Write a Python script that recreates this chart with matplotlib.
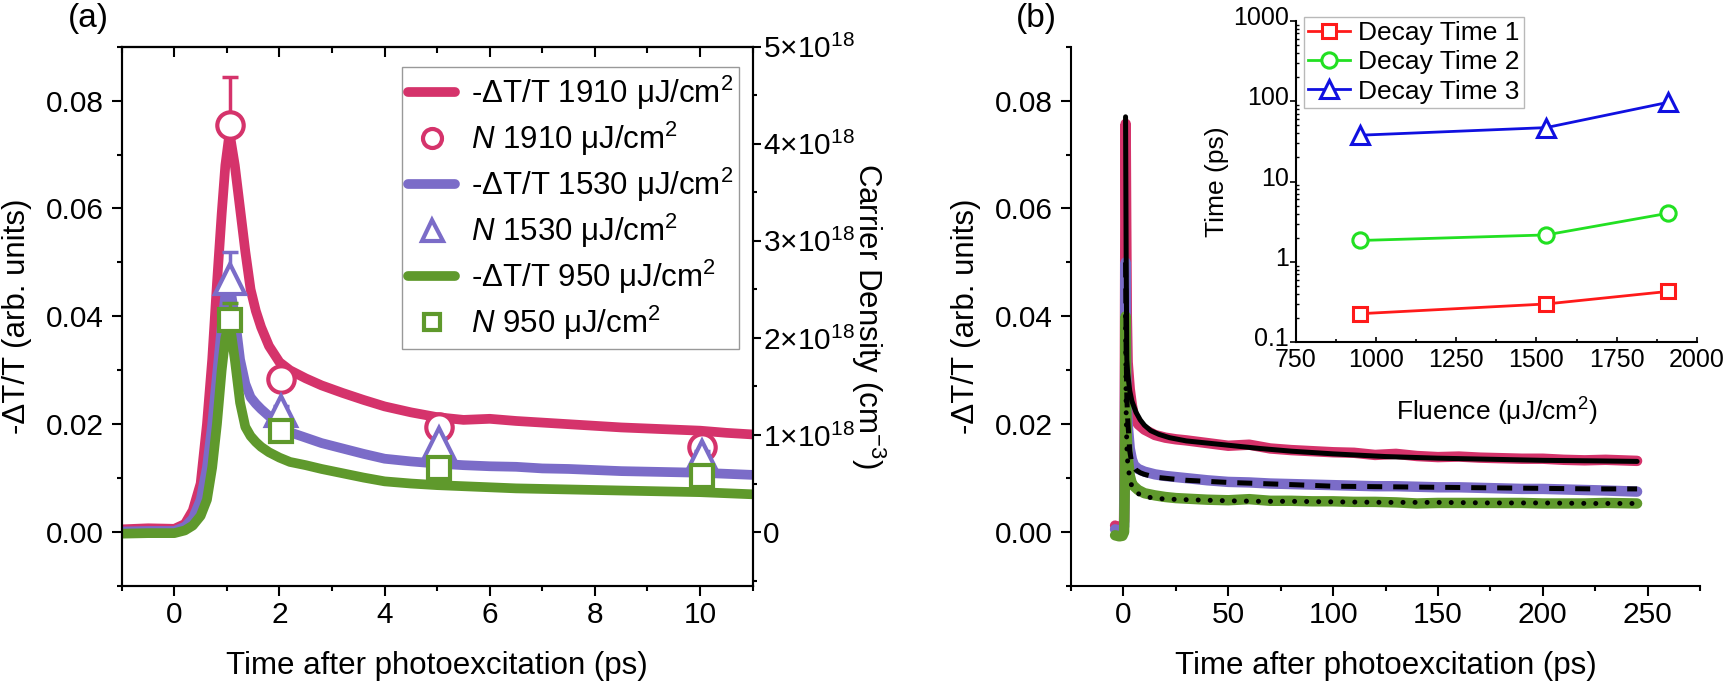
import matplotlib
matplotlib.use("Agg")
import matplotlib.pyplot as plt
import matplotlib.transforms as mtransforms
from matplotlib.ticker import MultipleLocator, FuncFormatter, LogLocator, NullFormatter
import numpy as np

plt.rcParams['font.family'] = ['Liberation Sans', 'DejaVu Sans']
plt.rcParams['mathtext.fontset'] = 'custom'
plt.rcParams['mathtext.rm'] = 'Liberation Sans'
plt.rcParams['mathtext.it'] = 'Liberation Sans:italic'
plt.rcParams['mathtext.bf'] = 'Liberation Sans:bold'
plt.rcParams['axes.linewidth'] = 1.5

PINK = '#d5336b'
PURPLE = '#7b6cc8'
GREEN = '#5f992c'

# ---- panel (a): early-time traces ----
ta = [-1.0, -0.5, 0.0, 0.2, 0.35, 0.5, 0.62, 0.72, 0.81, 0.9, 0.97, 1.05, 1.15, 1.25,
      1.35, 1.45, 1.55, 1.65, 1.8, 2.0, 2.2, 2.5, 2.8, 3.2, 3.6, 4.0, 4.5, 5.0, 5.5,
      6.0, 6.5, 7.0, 7.5, 8.0, 8.5, 9.0, 9.5, 10.0, 10.5, 11.0]
dT_1910 = [0.0005, 0.0007, 0.0006, 0.0015, 0.004, 0.009, 0.020, 0.032, 0.046, 0.059, 0.068,
           0.074, 0.068, 0.060, 0.052, 0.045, 0.041, 0.038, 0.0345, 0.0315, 0.0300, 0.0285,
           0.0272, 0.0258, 0.0245, 0.0233, 0.0222, 0.0213, 0.0208, 0.0210, 0.0206, 0.0203,
           0.0200, 0.0197, 0.0194, 0.0192, 0.0190, 0.0188, 0.0184, 0.0181]
dT_1530 = [0.0001, 0.0002, 0.0002, 0.0010, 0.0025, 0.006, 0.012, 0.020, 0.029, 0.038, 0.044,
           0.046, 0.040, 0.032, 0.0275, 0.0250, 0.0238, 0.0228, 0.0215, 0.0200, 0.0185,
           0.0175, 0.0165, 0.0155, 0.0145, 0.0136, 0.0131, 0.0127, 0.0124, 0.0122, 0.0121,
           0.0118, 0.0117, 0.0115, 0.0113, 0.0112, 0.0111, 0.0110, 0.0108, 0.0106]
dT_950 = [-0.0003, -0.0002, -0.0002, 0.0003, 0.0012, 0.003, 0.006, 0.012, 0.020, 0.030, 0.036,
          0.039, 0.032, 0.024, 0.0195, 0.0178, 0.0167, 0.0158, 0.0148, 0.0138, 0.0130,
          0.0124, 0.0117, 0.0109, 0.0101, 0.0094, 0.0090, 0.0087, 0.0085, 0.0083, 0.0081,
          0.0080, 0.0079, 0.0078, 0.0077, 0.0076, 0.0075, 0.0074, 0.0072, 0.0070]

# carrier density points (cm^-3)
tN = [1.05, 2.02, 5.03, 10.03]
N_1910 = [4.19e18, 1.58e18, 1.08e18, 0.88e18]
N_1910_err = [0.50e18, 0.08e18, 0.05e18, 0.05e18]
N_1530 = [2.61e18, 1.25e18, 0.92e18, 0.78e18]
N_1530_err = [0.28e18, 0.05e18, 0.05e18, 0.05e18]
N_950 = [2.18e18, 1.04e18, 0.66e18, 0.58e18]
N_950_err = [0.18e18, 0.05e18, 0.05e18, 0.05e18]

# ---- panel (b): long-time traces and fits ----
tb = [-4, -2, -0.5, 0.3, 0.6, 0.9, 1.05, 1.3, 1.6, 2, 3, 4, 5, 7, 10, 15, 20, 25, 30, 40,
      50, 60, 70, 80, 90, 100, 110, 120, 130, 140, 150, 160, 170, 180, 190, 200, 210, 220,
      230, 245]
b_1910 = [0.0012, 0.0008, 0.0006, 0.002, 0.020, 0.060, 0.0757, 0.058, 0.040, 0.0315,
          0.0265, 0.0235, 0.0215, 0.0200, 0.0190, 0.0180, 0.0175, 0.0172, 0.0170, 0.0165,
          0.0160, 0.0162, 0.0155, 0.0152, 0.0150, 0.0148, 0.0147, 0.0143, 0.0145, 0.0141,
          0.0139, 0.0140, 0.0138, 0.0137, 0.0136, 0.0136, 0.0134, 0.0133, 0.0134, 0.0132]
b_1530 = [0.0005, 0.0003, 0.0002, 0.001, 0.012, 0.038, 0.050, 0.032, 0.024, 0.020,
          0.0155, 0.0135, 0.0124, 0.0117, 0.0112, 0.0107, 0.0104, 0.0102, 0.0100, 0.0096,
          0.0093, 0.0092, 0.0090, 0.0089, 0.0088, 0.0087, 0.0086, 0.0085, 0.0085, 0.0084,
          0.0083, 0.0083, 0.0082, 0.0081, 0.0080, 0.0080, 0.0079, 0.0078, 0.0077, 0.0075]
b_950 = [-0.0006, -0.0008, -0.0007, 0.0, 0.008, 0.030, 0.040, 0.024, 0.0175, 0.0140,
         0.0105, 0.0090, 0.0085, 0.0078, 0.0072, 0.0068, 0.0065, 0.0063, 0.0062, 0.0060,
         0.0059, 0.0061, 0.0058, 0.0058, 0.0057, 0.0057, 0.0056, 0.0056, 0.0055, 0.0053,
         0.0054, 0.0054, 0.0054, 0.0054, 0.0054, 0.0053, 0.0053, 0.0053, 0.0054, 0.0053]

tf = [1.0, 1.3, 1.6, 2, 3, 4, 6, 8, 10, 13, 17, 22, 30, 40, 50, 65, 80, 100, 125, 150, 175,
      200, 225, 245]
fit_1910 = [0.077, 0.050, 0.032, 0.0295, 0.0262, 0.0243, 0.0222, 0.0208, 0.0198, 0.0188,
            0.0181, 0.0175, 0.0169, 0.0165, 0.0161, 0.0155, 0.0150, 0.0145, 0.0140, 0.0137,
            0.0135, 0.0133, 0.0132, 0.0131]
fit_1530 = [0.050, 0.033, 0.025, 0.021, 0.0150, 0.0127, 0.0115, 0.0110, 0.0107, 0.0104,
            0.0101, 0.0099, 0.0096, 0.0094, 0.0092, 0.0090, 0.0088, 0.0085, 0.0084, 0.0083,
            0.0082, 0.0081, 0.0080, 0.0080]
fit_950 = [0.040, 0.022, 0.016, 0.013, 0.0098, 0.0085, 0.0074, 0.0069, 0.0066, 0.0064,
           0.0062, 0.0061, 0.0060, 0.0059, 0.0058, 0.0057, 0.0057, 0.0056, 0.0055, 0.0055,
           0.0054, 0.0054, 0.0053, 0.0053]

# ---- inset: decay times ----
fluence = [950, 1530, 1910]
tau1 = [0.227, 0.30, 0.43]
tau2 = [1.85, 2.17, 4.04]
tau3 = [37.8, 47.0, 97.0]

SCALE = 5e18 / 0.09   # carrier density per unit of -dT/T

fig = plt.figure(figsize=(17.25, 6.86), dpi=100)

def style_main(ax):
    ax.tick_params(which='major', direction='out', length=7, width=1.5, labelsize=21.5, pad=6)
    ax.tick_params(which='minor', direction='out', length=3.5, width=1.5)
    ax.tick_params(axis='x', which='major', pad=4)

# ================= (a) =================
axa = fig.add_axes([0.0706, 0.1458, 0.3657, 0.7861])
la1, = axa.plot(ta, dT_1910, color=PINK, lw=7, solid_capstyle='round', solid_joinstyle='round')
la2, = axa.plot(ta, dT_1530, color=PURPLE, lw=7, solid_capstyle='round', solid_joinstyle='round')
la3, = axa.plot(ta, dT_950, color=GREEN, lw=7, solid_capstyle='round', solid_joinstyle='round')
axa.set_xlim(-1, 11)
axa.set_ylim(-0.01, 0.09)
axa.xaxis.set_major_locator(MultipleLocator(2))
axa.xaxis.set_minor_locator(MultipleLocator(1))
axa.yaxis.set_major_locator(MultipleLocator(0.02))
axa.yaxis.set_minor_locator(MultipleLocator(0.01))
axa.yaxis.set_major_formatter(FuncFormatter(lambda v, p: '%.2f' % v))
style_main(axa)
axa.set_xlabel('Time after photoexcitation (ps)', fontsize=22.5)
axa.set_ylabel('-ΔT/T (arb. units)', fontsize=22.5)
axa.xaxis.set_label_coords(0.5, -0.12)
axa.yaxis.set_label_coords(-0.142, 0.5)

top = axa.secondary_xaxis('top')
top.xaxis.set_major_locator(MultipleLocator(2))
top.xaxis.set_minor_locator(MultipleLocator(1))
top.tick_params(which='major', direction='in', length=7, width=1.5, labeltop=False)
top.tick_params(which='minor', direction='in', length=4, width=1.5)

axa2 = axa.twinx()
axa2.set_ylim(-0.01 * SCALE, 0.09 * SCALE)
axa2.yaxis.set_major_locator(MultipleLocator(1e18))
axa2.yaxis.set_minor_locator(MultipleLocator(0.5e18))

def dens_fmt(v, pos):
    if abs(v) < 1e10:
        return '0'
    return '%d×10$^{18}$' % round(v / 1e18)

axa2.yaxis.set_major_formatter(FuncFormatter(dens_fmt))
axa2.tick_params(which='major', direction='out', length=5.5, width=1.5, labelsize=21.5, pad=2)
axa2.tick_params(which='minor', direction='out', length=3, width=1.5)
axa2.set_ylabel('Carrier Density (cm$^{-3}$)', fontsize=22.5, rotation=270, va='bottom')
axa2.yaxis.set_label_coords(1.153, 0.5)

marker_specs = [(N_1910, N_1910_err, 'o', 19, PINK),
                (N_1530, N_1530_err, '^', 21, PURPLE),
                (N_950, N_950_err, 's', 16, GREEN)]
mk_handles = []
for vals, err, mk, ms, col in marker_specs:
    axa2.errorbar(tN, vals, yerr=[np.zeros(len(err)), err], fmt='none', ecolor=col,
                  elinewidth=2.5, capsize=6, capthick=2.5)
    h, = axa2.plot(tN, vals, ls='none', marker=mk, ms=ms, mfc='white', mec=col, mew=3)
    mk_handles.append(h)

leg = axa2.legend([la1, mk_handles[0], la2, mk_handles[1], la3, mk_handles[2]],
                  ['-ΔT/T 1910 μJ/cm$^2$', '$N$ 1910 μJ/cm$^2$',
                   '-ΔT/T 1530 μJ/cm$^2$', '$N$ 1530 μJ/cm$^2$',
                   '-ΔT/T 950 μJ/cm$^2$', '$N$ 950 μJ/cm$^2$'],
                  loc='upper left', bbox_to_anchor=(0.444, 0.962), borderaxespad=0,
                  fontsize=22.5, frameon=True, fancybox=False, edgecolor='#808080',
                  handlelength=1.5, handletextpad=0.5, labelspacing=0.25, borderpad=0.2,
                  markerscale=0.72)
leg.get_frame().set_linewidth(1.0)

fig.text(88 / 1725, 1 - 18 / 686, '(a)', fontsize=24, ha='center', va='center')

# ================= (b) =================
axb = fig.add_axes([0.6209, 0.1458, 0.3646, 0.7861])
for vals, col in [(b_1910, PINK), (b_1530, PURPLE), (b_950, GREEN)]:
    axb.plot(tb, vals, color=col, lw=7.5, solid_capstyle='round', solid_joinstyle='round')
axb.plot(tf, fit_1910, color='black', lw=3.6, solid_capstyle='round')
axb.plot(tf, fit_1530, color='black', lw=3.6, ls=(0, (3, 2.2)))
axb.plot(tf, fit_950, color='black', lw=3.6, ls=(0, (0.01, 2.4)), dash_capstyle='round')
axb.set_xlim(-25, 275)
axb.set_ylim(-0.01, 0.09)
axb.xaxis.set_major_locator(MultipleLocator(50))
axb.xaxis.set_minor_locator(MultipleLocator(25))
axb.yaxis.set_major_locator(MultipleLocator(0.02))
axb.yaxis.set_minor_locator(MultipleLocator(0.01))
axb.yaxis.set_major_formatter(FuncFormatter(lambda v, p: '%.2f' % v))
axb.spines['top'].set_visible(False)
axb.spines['right'].set_visible(False)
style_main(axb)
axb.set_xlabel('Time after photoexcitation (ps)', fontsize=22.5)
axb.set_ylabel('-ΔT/T (arb. units)', fontsize=22.5)
axb.xaxis.set_label_coords(0.5, -0.12)
axb.yaxis.set_label_coords(-0.143, 0.5)

fig.text(1036 / 1725, 1 - 18 / 686, '(b)', fontsize=24, ha='center', va='center')

# ================= inset =================
axi = fig.add_axes([0.7511, 0.5010, 0.2327, 0.4685])
axi.set_yscale('log')
li1, = axi.plot(fluence, tau1, color='#ff1a1a', lw=2, marker='s', ms=10, mfc='white', mew=2.2)
li2, = axi.plot(fluence, tau2, color='#22e022', lw=2, marker='o', ms=11, mfc='white', mew=2.2)
li3, = axi.plot(fluence, tau3, color='#1010e0', lw=2, marker='^', ms=13, mfc='white', mew=2.2)
axi.set_xlim(750, 2000)
axi.set_ylim(0.1, 1000)
axi.xaxis.set_major_locator(MultipleLocator(250))
axi.xaxis.set_minor_locator(MultipleLocator(125))
axi.set_yticks([0.1, 1, 10, 100, 1000], ['0.1', '1', '10', '100', '1000'])
axi.yaxis.set_minor_locator(LogLocator(base=10, subs=np.arange(2, 10)))
axi.yaxis.set_minor_formatter(NullFormatter())
axi.spines['top'].set_visible(False)
axi.spines['right'].set_visible(False)
axi.tick_params(axis='x', which='major', direction='in', length=3.5, width=1.2, labelsize=18, pad=4)
axi.tick_params(axis='x', which='minor', direction='in', length=2.5, width=1.2)
axi.tick_params(axis='y', which='major', direction='out', length=4, width=1.2, labelsize=18, pad=1)
axi.tick_params(axis='y', which='minor', direction='in', length=2.5, width=1.0)
shift = mtransforms.ScaledTranslation(0, 4 / 72, fig.dpi_scale_trans)
for lbl in axi.get_yticklabels():
    lbl.set_transform(lbl.get_transform() + shift)
axi.set_xlabel('Fluence (μJ/cm$^2$)', fontsize=19)
axi.set_ylabel('Time (ps)', fontsize=19)
axi.xaxis.set_label_coords(0.5, -0.165)
axi.yaxis.set_label_coords(-0.166, 0.5)
ileg = axi.legend([li1, li2, li3], ['Decay Time 1', 'Decay Time 2', 'Decay Time 3'],
                  loc='upper left', bbox_to_anchor=(0.021, 1.012), borderaxespad=0,
                  fontsize=19, frameon=True, fancybox=False, edgecolor='#a8a8a8',
                  handlelength=1.6, handletextpad=0.3, labelspacing=0.2, borderpad=0.15)
ileg.get_frame().set_linewidth(1.0)

fig.savefig('out.png', dpi=100)
